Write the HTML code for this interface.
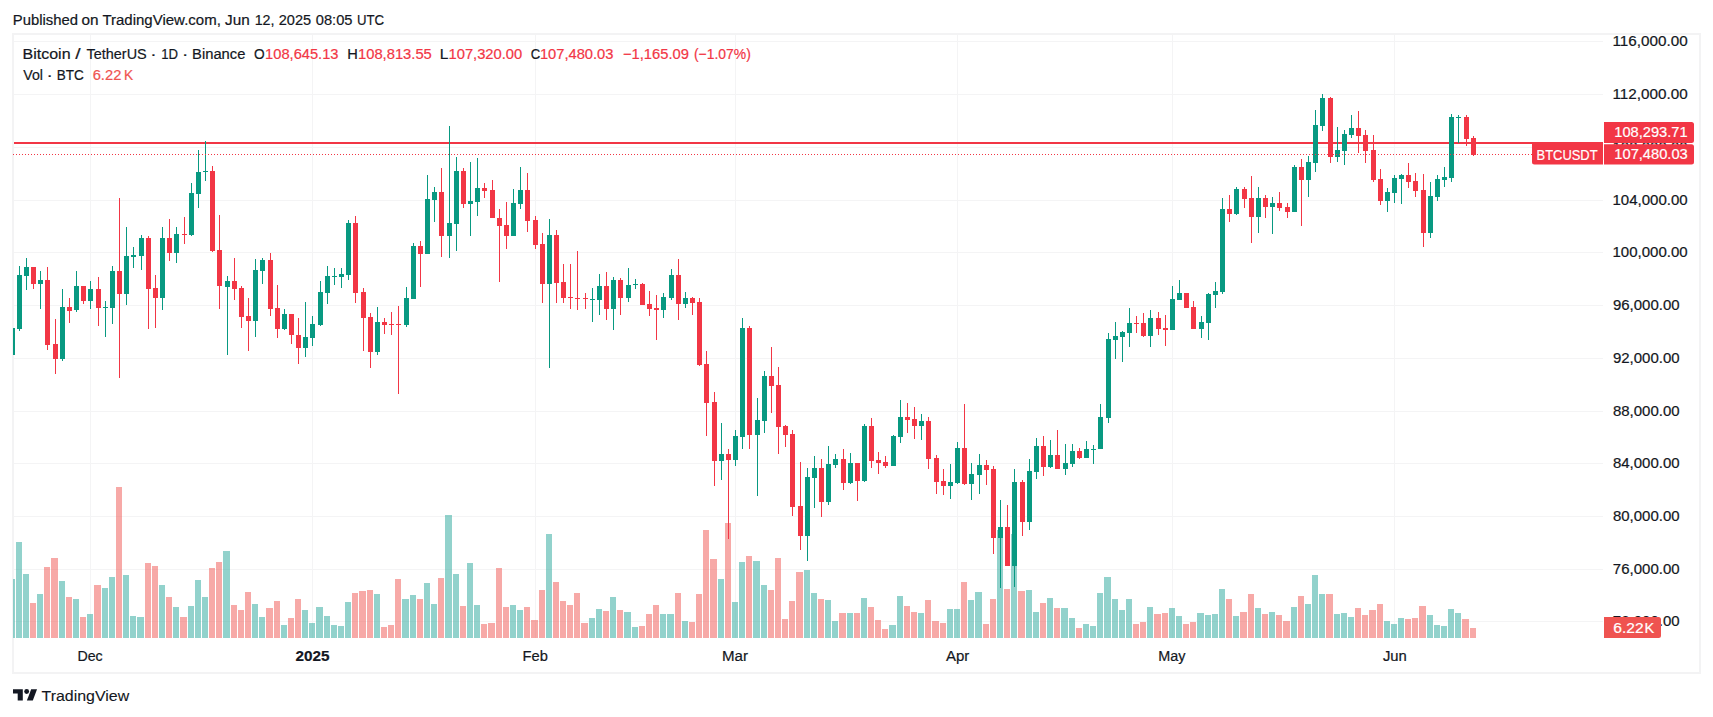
<!DOCTYPE html>
<html lang="en"><head><meta charset="utf-8"><title>BTCUSDT chart</title>
<style>html,body{margin:0;padding:0;background:#fff}body{width:1713px;height:717px;overflow:hidden}svg{display:block}</style>
</head><body>
<svg width="1713" height="717" viewBox="0 0 1713 717">
<rect width="1713" height="717" fill="#fff"/>
<defs><clipPath id="plot"><rect x="13" y="34" width="1590" height="604"/></clipPath></defs>
<g fill="#F4F4F5" shape-rendering="crispEdges"><rect x="13" y="41" width="1590" height="1"/><rect x="13" y="94" width="1590" height="1"/><rect x="13" y="147" width="1590" height="1"/><rect x="13" y="200" width="1590" height="1"/><rect x="13" y="252" width="1590" height="1"/><rect x="13" y="305" width="1590" height="1"/><rect x="13" y="358" width="1590" height="1"/><rect x="13" y="411" width="1590" height="1"/><rect x="13" y="463" width="1590" height="1"/><rect x="13" y="516" width="1590" height="1"/><rect x="13" y="569" width="1590" height="1"/><rect x="13" y="621" width="1590" height="1"/><rect x="90" y="34" width="1" height="604"/><rect x="312" y="34" width="1" height="604"/><rect x="535" y="34" width="1" height="604"/><rect x="735" y="34" width="1" height="604"/><rect x="957" y="34" width="1" height="604"/><rect x="1172" y="34" width="1" height="604"/><rect x="1394" y="34" width="1" height="604"/></g>
<rect x="13" y="34" width="1687" height="639" fill="none" stroke="#F3F3F4" stroke-width="2" shape-rendering="crispEdges"/>
<rect x="14" y="142" width="1589" height="2" fill="#F23645" shape-rendering="crispEdges"/>
<g clip-path="url(#plot)" shape-rendering="crispEdges">
<g fill="#26A69A" fill-opacity="0.5"><rect x="9" y="579" width="6" height="59"/><rect x="16" y="542" width="6" height="96"/><rect x="23" y="574" width="6" height="64"/><rect x="37" y="594" width="6" height="44"/><rect x="59" y="581" width="6" height="57"/><rect x="73" y="599" width="6" height="39"/><rect x="87" y="614" width="6" height="24"/><rect x="102" y="588" width="6" height="50"/><rect x="109" y="577" width="6" height="61"/><rect x="123" y="575" width="6" height="63"/><rect x="130" y="616" width="6" height="22"/><rect x="137" y="617" width="7" height="21"/><rect x="159" y="585" width="6" height="53"/><rect x="173" y="607" width="6" height="31"/><rect x="188" y="606" width="6" height="32"/><rect x="195" y="580" width="6" height="58"/><rect x="202" y="597" width="6" height="41"/><rect x="223" y="551" width="7" height="87"/><rect x="252" y="604" width="6" height="34"/><rect x="259" y="617" width="6" height="21"/><rect x="281" y="625" width="6" height="13"/><rect x="302" y="610" width="6" height="28"/><rect x="309" y="623" width="6" height="15"/><rect x="316" y="607" width="7" height="31"/><rect x="324" y="616" width="6" height="22"/><rect x="331" y="625" width="6" height="13"/><rect x="338" y="626" width="6" height="12"/><rect x="345" y="602" width="6" height="36"/><rect x="374" y="594" width="6" height="44"/><rect x="402" y="599" width="7" height="39"/><rect x="410" y="595" width="6" height="43"/><rect x="424" y="583" width="6" height="55"/><rect x="431" y="604" width="6" height="34"/><rect x="445" y="515" width="7" height="123"/><rect x="453" y="574" width="6" height="64"/><rect x="467" y="563" width="6" height="75"/><rect x="474" y="605" width="6" height="33"/><rect x="510" y="605" width="6" height="33"/><rect x="517" y="610" width="6" height="28"/><rect x="546" y="534" width="6" height="104"/><rect x="589" y="618" width="6" height="20"/><rect x="596" y="609" width="6" height="29"/><rect x="610" y="597" width="6" height="41"/><rect x="624" y="612" width="7" height="26"/><rect x="632" y="627" width="6" height="11"/><rect x="660" y="614" width="6" height="24"/><rect x="667" y="614" width="7" height="24"/><rect x="682" y="621" width="6" height="17"/><rect x="718" y="579" width="6" height="59"/><rect x="732" y="602" width="6" height="36"/><rect x="739" y="562" width="6" height="76"/><rect x="753" y="561" width="7" height="77"/><rect x="761" y="585" width="6" height="53"/><rect x="804" y="570" width="6" height="68"/><rect x="811" y="593" width="6" height="45"/><rect x="825" y="600" width="6" height="38"/><rect x="832" y="621" width="6" height="17"/><rect x="847" y="613" width="6" height="25"/><rect x="861" y="598" width="6" height="40"/><rect x="889" y="625" width="7" height="13"/><rect x="897" y="596" width="6" height="42"/><rect x="918" y="613" width="6" height="25"/><rect x="947" y="609" width="6" height="29"/><rect x="954" y="609" width="6" height="29"/><rect x="968" y="600" width="6" height="38"/><rect x="975" y="592" width="7" height="46"/><rect x="997" y="530" width="6" height="108"/><rect x="1011" y="534" width="6" height="104"/><rect x="1026" y="590" width="6" height="48"/><rect x="1033" y="612" width="6" height="26"/><rect x="1047" y="598" width="6" height="40"/><rect x="1061" y="608" width="7" height="30"/><rect x="1069" y="618" width="6" height="20"/><rect x="1083" y="624" width="6" height="14"/><rect x="1090" y="626" width="6" height="12"/><rect x="1097" y="593" width="6" height="45"/><rect x="1104" y="577" width="7" height="61"/><rect x="1112" y="599" width="6" height="39"/><rect x="1119" y="610" width="6" height="28"/><rect x="1126" y="599" width="6" height="39"/><rect x="1147" y="607" width="6" height="31"/><rect x="1169" y="608" width="6" height="30"/><rect x="1176" y="616" width="6" height="22"/><rect x="1197" y="613" width="7" height="25"/><rect x="1205" y="615" width="6" height="23"/><rect x="1212" y="614" width="6" height="24"/><rect x="1219" y="589" width="6" height="49"/><rect x="1233" y="616" width="6" height="22"/><rect x="1255" y="608" width="6" height="30"/><rect x="1269" y="612" width="6" height="26"/><rect x="1291" y="607" width="6" height="31"/><rect x="1305" y="604" width="6" height="34"/><rect x="1312" y="575" width="6" height="63"/><rect x="1319" y="594" width="6" height="44"/><rect x="1334" y="614" width="6" height="24"/><rect x="1341" y="613" width="6" height="25"/><rect x="1348" y="617" width="6" height="21"/><rect x="1384" y="621" width="6" height="17"/><rect x="1391" y="624" width="6" height="14"/><rect x="1398" y="618" width="6" height="20"/><rect x="1427" y="615" width="6" height="23"/><rect x="1434" y="625" width="6" height="13"/><rect x="1441" y="626" width="6" height="12"/><rect x="1448" y="609" width="6" height="29"/><rect x="1455" y="613" width="6" height="25"/></g>
<g fill="#EF5350" fill-opacity="0.5"><rect x="30" y="603" width="6" height="35"/><rect x="44" y="567" width="6" height="71"/><rect x="51" y="558" width="7" height="80"/><rect x="66" y="597" width="6" height="41"/><rect x="80" y="617" width="6" height="21"/><rect x="94" y="585" width="7" height="53"/><rect x="116" y="487" width="6" height="151"/><rect x="145" y="563" width="6" height="75"/><rect x="152" y="566" width="6" height="72"/><rect x="166" y="597" width="6" height="41"/><rect x="180" y="617" width="7" height="21"/><rect x="209" y="568" width="6" height="70"/><rect x="216" y="562" width="6" height="76"/><rect x="231" y="605" width="6" height="33"/><rect x="238" y="610" width="6" height="28"/><rect x="245" y="592" width="6" height="46"/><rect x="266" y="608" width="7" height="30"/><rect x="274" y="601" width="6" height="37"/><rect x="288" y="618" width="6" height="20"/><rect x="295" y="599" width="6" height="39"/><rect x="352" y="593" width="6" height="45"/><rect x="359" y="591" width="7" height="47"/><rect x="367" y="590" width="6" height="48"/><rect x="381" y="627" width="6" height="11"/><rect x="388" y="625" width="6" height="13"/><rect x="395" y="579" width="6" height="59"/><rect x="417" y="599" width="6" height="39"/><rect x="438" y="578" width="6" height="60"/><rect x="460" y="606" width="6" height="32"/><rect x="481" y="624" width="6" height="14"/><rect x="488" y="623" width="7" height="15"/><rect x="496" y="568" width="6" height="70"/><rect x="503" y="607" width="6" height="31"/><rect x="524" y="607" width="6" height="31"/><rect x="531" y="620" width="7" height="18"/><rect x="539" y="590" width="6" height="48"/><rect x="553" y="582" width="6" height="56"/><rect x="560" y="601" width="6" height="37"/><rect x="567" y="605" width="6" height="33"/><rect x="574" y="593" width="6" height="45"/><rect x="581" y="623" width="7" height="15"/><rect x="603" y="611" width="6" height="27"/><rect x="617" y="610" width="6" height="28"/><rect x="639" y="626" width="6" height="12"/><rect x="646" y="614" width="6" height="24"/><rect x="653" y="605" width="6" height="33"/><rect x="675" y="593" width="6" height="45"/><rect x="689" y="622" width="6" height="16"/><rect x="696" y="594" width="6" height="44"/><rect x="703" y="530" width="6" height="108"/><rect x="710" y="559" width="7" height="79"/><rect x="725" y="523" width="6" height="115"/><rect x="746" y="556" width="6" height="82"/><rect x="768" y="590" width="6" height="48"/><rect x="775" y="558" width="6" height="80"/><rect x="782" y="619" width="6" height="19"/><rect x="789" y="601" width="6" height="37"/><rect x="796" y="572" width="7" height="66"/><rect x="818" y="599" width="6" height="39"/><rect x="839" y="613" width="7" height="25"/><rect x="854" y="613" width="6" height="25"/><rect x="868" y="607" width="6" height="31"/><rect x="875" y="620" width="6" height="18"/><rect x="882" y="629" width="6" height="9"/><rect x="904" y="606" width="6" height="32"/><rect x="911" y="612" width="6" height="26"/><rect x="925" y="600" width="6" height="38"/><rect x="932" y="621" width="7" height="17"/><rect x="940" y="623" width="6" height="15"/><rect x="961" y="582" width="6" height="56"/><rect x="983" y="624" width="6" height="14"/><rect x="990" y="599" width="6" height="39"/><rect x="1004" y="589" width="6" height="49"/><rect x="1018" y="591" width="7" height="47"/><rect x="1040" y="603" width="6" height="35"/><rect x="1054" y="608" width="6" height="30"/><rect x="1076" y="628" width="6" height="10"/><rect x="1133" y="624" width="6" height="14"/><rect x="1140" y="622" width="6" height="16"/><rect x="1154" y="614" width="7" height="24"/><rect x="1162" y="613" width="6" height="25"/><rect x="1183" y="624" width="6" height="14"/><rect x="1190" y="622" width="6" height="16"/><rect x="1226" y="599" width="6" height="39"/><rect x="1240" y="612" width="7" height="26"/><rect x="1248" y="594" width="6" height="44"/><rect x="1262" y="614" width="6" height="24"/><rect x="1276" y="615" width="6" height="23"/><rect x="1283" y="621" width="7" height="17"/><rect x="1298" y="596" width="6" height="42"/><rect x="1326" y="594" width="7" height="44"/><rect x="1355" y="608" width="6" height="30"/><rect x="1362" y="615" width="6" height="23"/><rect x="1369" y="610" width="7" height="28"/><rect x="1377" y="604" width="6" height="34"/><rect x="1405" y="619" width="6" height="19"/><rect x="1412" y="618" width="6" height="20"/><rect x="1419" y="606" width="7" height="32"/><rect x="1462" y="619" width="7" height="19"/><rect x="1470" y="628" width="6" height="10"/></g>
<g fill="#089981"><rect x="12" y="328" width="1" height="27"/><rect x="10" y="328" width="5" height="27"/><rect x="19" y="266" width="1" height="65"/><rect x="17" y="275" width="5" height="54"/><rect x="26" y="258" width="1" height="32"/><rect x="24" y="267" width="5" height="9"/><rect x="40" y="271" width="1" height="38"/><rect x="38" y="280" width="5" height="4"/><rect x="62" y="289" width="1" height="72"/><rect x="60" y="307" width="5" height="52"/><rect x="76" y="271" width="1" height="41"/><rect x="74" y="286" width="5" height="24"/><rect x="90" y="281" width="1" height="28"/><rect x="88" y="289" width="5" height="12"/><rect x="105" y="301" width="1" height="36"/><rect x="103" y="307" width="5" height="1"/><rect x="112" y="266" width="1" height="58"/><rect x="110" y="271" width="5" height="37"/><rect x="126" y="227" width="1" height="78"/><rect x="124" y="256" width="5" height="38"/><rect x="133" y="247" width="1" height="21"/><rect x="131" y="255" width="5" height="2"/><rect x="141" y="235" width="1" height="35"/><rect x="139" y="238" width="5" height="18"/><rect x="162" y="227" width="1" height="83"/><rect x="160" y="238" width="5" height="60"/><rect x="176" y="227" width="1" height="36"/><rect x="174" y="234" width="5" height="19"/><rect x="191" y="183" width="1" height="53"/><rect x="189" y="193" width="5" height="42"/><rect x="198" y="150" width="1" height="58"/><rect x="196" y="172" width="5" height="22"/><rect x="205" y="141" width="1" height="40"/><rect x="203" y="171" width="5" height="1"/><rect x="227" y="276" width="1" height="79"/><rect x="225" y="281" width="5" height="6"/><rect x="255" y="259" width="1" height="78"/><rect x="253" y="270" width="5" height="51"/><rect x="262" y="258" width="1" height="26"/><rect x="260" y="260" width="5" height="11"/><rect x="284" y="309" width="1" height="21"/><rect x="282" y="314" width="5" height="15"/><rect x="305" y="302" width="1" height="55"/><rect x="303" y="337" width="5" height="11"/><rect x="312" y="316" width="1" height="30"/><rect x="310" y="324" width="5" height="14"/><rect x="320" y="281" width="1" height="45"/><rect x="318" y="292" width="5" height="33"/><rect x="327" y="266" width="1" height="38"/><rect x="325" y="276" width="5" height="17"/><rect x="334" y="268" width="1" height="17"/><rect x="332" y="276" width="5" height="1"/><rect x="341" y="268" width="1" height="20"/><rect x="339" y="274" width="5" height="3"/><rect x="348" y="220" width="1" height="60"/><rect x="346" y="223" width="5" height="52"/><rect x="377" y="307" width="1" height="48"/><rect x="375" y="322" width="5" height="30"/><rect x="406" y="287" width="1" height="40"/><rect x="404" y="298" width="5" height="27"/><rect x="413" y="243" width="1" height="56"/><rect x="411" y="246" width="5" height="53"/><rect x="427" y="175" width="1" height="79"/><rect x="425" y="199" width="5" height="55"/><rect x="434" y="187" width="1" height="35"/><rect x="432" y="192" width="5" height="8"/><rect x="449" y="126" width="1" height="132"/><rect x="447" y="223" width="5" height="13"/><rect x="456" y="157" width="1" height="94"/><rect x="454" y="171" width="5" height="53"/><rect x="470" y="162" width="1" height="74"/><rect x="468" y="201" width="5" height="3"/><rect x="477" y="158" width="1" height="58"/><rect x="475" y="188" width="5" height="14"/><rect x="513" y="189" width="1" height="47"/><rect x="511" y="203" width="5" height="33"/><rect x="520" y="167" width="1" height="42"/><rect x="518" y="190" width="5" height="14"/><rect x="549" y="219" width="1" height="149"/><rect x="547" y="235" width="5" height="49"/><rect x="592" y="288" width="1" height="34"/><rect x="590" y="299" width="5" height="1"/><rect x="599" y="274" width="1" height="41"/><rect x="597" y="286" width="5" height="14"/><rect x="613" y="277" width="1" height="53"/><rect x="611" y="280" width="5" height="29"/><rect x="628" y="268" width="1" height="34"/><rect x="626" y="285" width="5" height="13"/><rect x="635" y="279" width="1" height="10"/><rect x="633" y="284" width="5" height="1"/><rect x="663" y="293" width="1" height="25"/><rect x="661" y="297" width="5" height="13"/><rect x="671" y="269" width="1" height="31"/><rect x="669" y="275" width="5" height="23"/><rect x="685" y="292" width="1" height="16"/><rect x="683" y="298" width="5" height="6"/><rect x="721" y="423" width="1" height="57"/><rect x="719" y="454" width="5" height="7"/><rect x="735" y="430" width="1" height="36"/><rect x="733" y="436" width="5" height="24"/><rect x="742" y="318" width="1" height="131"/><rect x="740" y="328" width="5" height="109"/><rect x="757" y="398" width="1" height="98"/><rect x="755" y="420" width="5" height="15"/><rect x="764" y="371" width="1" height="62"/><rect x="762" y="376" width="5" height="45"/><rect x="807" y="468" width="1" height="93"/><rect x="805" y="477" width="5" height="59"/><rect x="814" y="456" width="1" height="52"/><rect x="812" y="468" width="5" height="10"/><rect x="828" y="446" width="1" height="59"/><rect x="826" y="464" width="5" height="38"/><rect x="835" y="454" width="1" height="14"/><rect x="833" y="459" width="5" height="6"/><rect x="850" y="453" width="1" height="31"/><rect x="848" y="463" width="5" height="20"/><rect x="864" y="424" width="1" height="58"/><rect x="862" y="426" width="5" height="55"/><rect x="893" y="435" width="1" height="31"/><rect x="891" y="436" width="5" height="30"/><rect x="900" y="400" width="1" height="43"/><rect x="898" y="417" width="5" height="20"/><rect x="921" y="414" width="1" height="26"/><rect x="919" y="421" width="5" height="5"/><rect x="950" y="464" width="1" height="35"/><rect x="948" y="482" width="5" height="4"/><rect x="957" y="442" width="1" height="42"/><rect x="955" y="448" width="5" height="35"/><rect x="971" y="463" width="1" height="37"/><rect x="969" y="474" width="5" height="10"/><rect x="979" y="454" width="1" height="40"/><rect x="977" y="465" width="5" height="10"/><rect x="1000" y="500" width="1" height="88"/><rect x="998" y="527" width="5" height="11"/><rect x="1014" y="469" width="1" height="118"/><rect x="1012" y="482" width="5" height="84"/><rect x="1029" y="459" width="1" height="71"/><rect x="1027" y="471" width="5" height="51"/><rect x="1036" y="438" width="1" height="41"/><rect x="1034" y="446" width="5" height="26"/><rect x="1050" y="440" width="1" height="28"/><rect x="1048" y="455" width="5" height="12"/><rect x="1065" y="444" width="1" height="31"/><rect x="1063" y="463" width="5" height="6"/><rect x="1072" y="444" width="1" height="23"/><rect x="1070" y="451" width="5" height="13"/><rect x="1086" y="441" width="1" height="17"/><rect x="1084" y="449" width="5" height="9"/><rect x="1093" y="445" width="1" height="19"/><rect x="1091" y="449" width="5" height="1"/><rect x="1100" y="404" width="1" height="45"/><rect x="1098" y="417" width="5" height="32"/><rect x="1108" y="333" width="1" height="90"/><rect x="1106" y="339" width="5" height="79"/><rect x="1115" y="322" width="1" height="37"/><rect x="1113" y="336" width="5" height="4"/><rect x="1122" y="331" width="1" height="31"/><rect x="1120" y="332" width="5" height="5"/><rect x="1129" y="308" width="1" height="39"/><rect x="1127" y="323" width="5" height="10"/><rect x="1150" y="310" width="1" height="37"/><rect x="1148" y="318" width="5" height="18"/><rect x="1172" y="286" width="1" height="44"/><rect x="1170" y="299" width="5" height="31"/><rect x="1179" y="280" width="1" height="20"/><rect x="1177" y="293" width="5" height="7"/><rect x="1201" y="316" width="1" height="22"/><rect x="1199" y="322" width="5" height="7"/><rect x="1208" y="293" width="1" height="47"/><rect x="1206" y="294" width="5" height="29"/><rect x="1215" y="282" width="1" height="26"/><rect x="1213" y="291" width="5" height="4"/><rect x="1222" y="198" width="1" height="96"/><rect x="1220" y="209" width="5" height="83"/><rect x="1236" y="187" width="1" height="28"/><rect x="1234" y="189" width="5" height="25"/><rect x="1258" y="187" width="1" height="46"/><rect x="1256" y="198" width="5" height="19"/><rect x="1272" y="197" width="1" height="37"/><rect x="1270" y="203" width="5" height="4"/><rect x="1294" y="165" width="1" height="47"/><rect x="1292" y="167" width="5" height="45"/><rect x="1308" y="156" width="1" height="41"/><rect x="1306" y="162" width="5" height="18"/><rect x="1315" y="110" width="1" height="62"/><rect x="1313" y="125" width="5" height="38"/><rect x="1322" y="94" width="1" height="37"/><rect x="1320" y="98" width="5" height="28"/><rect x="1337" y="127" width="1" height="35"/><rect x="1335" y="150" width="5" height="7"/><rect x="1344" y="130" width="1" height="35"/><rect x="1342" y="134" width="5" height="17"/><rect x="1351" y="115" width="1" height="23"/><rect x="1349" y="128" width="5" height="7"/><rect x="1387" y="188" width="1" height="24"/><rect x="1385" y="192" width="5" height="9"/><rect x="1394" y="175" width="1" height="28"/><rect x="1392" y="178" width="5" height="15"/><rect x="1401" y="174" width="1" height="30"/><rect x="1399" y="175" width="5" height="4"/><rect x="1430" y="182" width="1" height="56"/><rect x="1428" y="196" width="5" height="37"/><rect x="1437" y="175" width="1" height="26"/><rect x="1435" y="179" width="5" height="18"/><rect x="1444" y="167" width="1" height="20"/><rect x="1442" y="177" width="5" height="3"/><rect x="1451" y="114" width="1" height="68"/><rect x="1449" y="117" width="5" height="61"/><rect x="1458" y="115" width="1" height="28"/><rect x="1456" y="117" width="5" height="1"/></g>
<g fill="#F23645"><rect x="33" y="267" width="1" height="22"/><rect x="31" y="267" width="5" height="17"/><rect x="47" y="267" width="1" height="83"/><rect x="45" y="280" width="5" height="65"/><rect x="55" y="319" width="1" height="55"/><rect x="53" y="344" width="5" height="15"/><rect x="69" y="298" width="1" height="25"/><rect x="67" y="307" width="5" height="4"/><rect x="83" y="286" width="1" height="18"/><rect x="81" y="286" width="5" height="15"/><rect x="98" y="277" width="1" height="49"/><rect x="96" y="289" width="5" height="19"/><rect x="119" y="198" width="1" height="180"/><rect x="117" y="271" width="5" height="23"/><rect x="148" y="236" width="1" height="93"/><rect x="146" y="238" width="5" height="51"/><rect x="155" y="275" width="1" height="53"/><rect x="153" y="288" width="5" height="10"/><rect x="169" y="219" width="1" height="42"/><rect x="167" y="238" width="5" height="15"/><rect x="184" y="217" width="1" height="27"/><rect x="182" y="234" width="5" height="1"/><rect x="212" y="166" width="1" height="86"/><rect x="210" y="171" width="5" height="80"/><rect x="219" y="215" width="1" height="94"/><rect x="217" y="250" width="5" height="36"/><rect x="234" y="258" width="1" height="42"/><rect x="232" y="281" width="5" height="8"/><rect x="241" y="286" width="1" height="42"/><rect x="239" y="288" width="5" height="29"/><rect x="248" y="298" width="1" height="53"/><rect x="246" y="316" width="5" height="5"/><rect x="270" y="253" width="1" height="63"/><rect x="268" y="260" width="5" height="49"/><rect x="277" y="285" width="1" height="53"/><rect x="275" y="308" width="5" height="21"/><rect x="291" y="314" width="1" height="30"/><rect x="289" y="314" width="5" height="21"/><rect x="298" y="318" width="1" height="46"/><rect x="296" y="335" width="5" height="13"/><rect x="355" y="216" width="1" height="87"/><rect x="353" y="223" width="5" height="70"/><rect x="363" y="288" width="1" height="63"/><rect x="361" y="292" width="5" height="26"/><rect x="370" y="313" width="1" height="55"/><rect x="368" y="317" width="5" height="35"/><rect x="384" y="318" width="1" height="16"/><rect x="382" y="322" width="5" height="3"/><rect x="391" y="312" width="1" height="23"/><rect x="389" y="324" width="5" height="1"/><rect x="398" y="306" width="1" height="88"/><rect x="396" y="324" width="5" height="1"/><rect x="420" y="241" width="1" height="46"/><rect x="418" y="246" width="5" height="8"/><rect x="441" y="168" width="1" height="89"/><rect x="439" y="192" width="5" height="44"/><rect x="463" y="168" width="1" height="40"/><rect x="461" y="171" width="5" height="33"/><rect x="484" y="183" width="1" height="15"/><rect x="482" y="188" width="5" height="3"/><rect x="492" y="180" width="1" height="38"/><rect x="490" y="190" width="5" height="28"/><rect x="499" y="209" width="1" height="73"/><rect x="497" y="218" width="5" height="8"/><rect x="506" y="202" width="1" height="47"/><rect x="504" y="225" width="5" height="11"/><rect x="527" y="173" width="1" height="59"/><rect x="525" y="190" width="5" height="31"/><rect x="535" y="216" width="1" height="33"/><rect x="533" y="220" width="5" height="25"/><rect x="542" y="233" width="1" height="70"/><rect x="540" y="244" width="5" height="40"/><rect x="556" y="230" width="1" height="73"/><rect x="554" y="235" width="5" height="48"/><rect x="563" y="264" width="1" height="39"/><rect x="561" y="282" width="5" height="16"/><rect x="570" y="264" width="1" height="45"/><rect x="568" y="297" width="5" height="1"/><rect x="577" y="251" width="1" height="59"/><rect x="575" y="298" width="5" height="1"/><rect x="585" y="293" width="1" height="16"/><rect x="583" y="298" width="5" height="1"/><rect x="606" y="272" width="1" height="48"/><rect x="604" y="286" width="5" height="23"/><rect x="620" y="278" width="1" height="37"/><rect x="618" y="280" width="5" height="18"/><rect x="642" y="283" width="1" height="22"/><rect x="640" y="284" width="5" height="21"/><rect x="649" y="291" width="1" height="25"/><rect x="647" y="304" width="5" height="5"/><rect x="656" y="295" width="1" height="45"/><rect x="654" y="308" width="5" height="2"/><rect x="678" y="259" width="1" height="61"/><rect x="676" y="275" width="5" height="29"/><rect x="692" y="297" width="1" height="18"/><rect x="690" y="298" width="5" height="5"/><rect x="699" y="298" width="1" height="68"/><rect x="697" y="302" width="5" height="63"/><rect x="706" y="351" width="1" height="85"/><rect x="704" y="364" width="5" height="39"/><rect x="714" y="392" width="1" height="94"/><rect x="712" y="402" width="5" height="59"/><rect x="728" y="449" width="1" height="90"/><rect x="726" y="454" width="5" height="6"/><rect x="749" y="326" width="1" height="123"/><rect x="747" y="328" width="5" height="107"/><rect x="771" y="347" width="1" height="66"/><rect x="769" y="376" width="5" height="10"/><rect x="778" y="367" width="1" height="87"/><rect x="776" y="385" width="5" height="42"/><rect x="785" y="425" width="1" height="22"/><rect x="783" y="426" width="5" height="9"/><rect x="792" y="430" width="1" height="86"/><rect x="790" y="434" width="5" height="73"/><rect x="800" y="462" width="1" height="88"/><rect x="798" y="506" width="5" height="30"/><rect x="821" y="459" width="1" height="58"/><rect x="819" y="468" width="5" height="34"/><rect x="843" y="449" width="1" height="41"/><rect x="841" y="459" width="5" height="24"/><rect x="857" y="463" width="1" height="38"/><rect x="855" y="463" width="5" height="18"/><rect x="871" y="418" width="1" height="50"/><rect x="869" y="426" width="5" height="35"/><rect x="878" y="452" width="1" height="22"/><rect x="876" y="460" width="5" height="3"/><rect x="885" y="456" width="1" height="12"/><rect x="883" y="462" width="5" height="4"/><rect x="907" y="403" width="1" height="30"/><rect x="905" y="417" width="5" height="3"/><rect x="914" y="407" width="1" height="32"/><rect x="912" y="419" width="5" height="7"/><rect x="928" y="417" width="1" height="52"/><rect x="926" y="421" width="5" height="38"/><rect x="936" y="455" width="1" height="39"/><rect x="934" y="458" width="5" height="24"/><rect x="943" y="469" width="1" height="26"/><rect x="941" y="481" width="5" height="5"/><rect x="964" y="404" width="1" height="81"/><rect x="962" y="448" width="5" height="36"/><rect x="986" y="460" width="1" height="25"/><rect x="984" y="465" width="5" height="5"/><rect x="993" y="466" width="1" height="88"/><rect x="991" y="469" width="5" height="69"/><rect x="1007" y="505" width="1" height="61"/><rect x="1005" y="527" width="5" height="39"/><rect x="1022" y="480" width="1" height="56"/><rect x="1020" y="482" width="5" height="40"/><rect x="1043" y="436" width="1" height="40"/><rect x="1041" y="446" width="5" height="21"/><rect x="1057" y="430" width="1" height="39"/><rect x="1055" y="455" width="5" height="14"/><rect x="1079" y="448" width="1" height="11"/><rect x="1077" y="451" width="5" height="7"/><rect x="1136" y="316" width="1" height="17"/><rect x="1134" y="323" width="5" height="1"/><rect x="1143" y="313" width="1" height="24"/><rect x="1141" y="323" width="5" height="13"/><rect x="1158" y="312" width="1" height="23"/><rect x="1156" y="318" width="5" height="11"/><rect x="1165" y="315" width="1" height="31"/><rect x="1163" y="328" width="5" height="2"/><rect x="1186" y="293" width="1" height="15"/><rect x="1184" y="293" width="5" height="15"/><rect x="1193" y="301" width="1" height="28"/><rect x="1191" y="307" width="5" height="22"/><rect x="1229" y="195" width="1" height="27"/><rect x="1227" y="209" width="5" height="5"/><rect x="1244" y="187" width="1" height="21"/><rect x="1242" y="189" width="5" height="10"/><rect x="1251" y="176" width="1" height="67"/><rect x="1249" y="198" width="5" height="19"/><rect x="1265" y="195" width="1" height="23"/><rect x="1263" y="198" width="5" height="9"/><rect x="1279" y="192" width="1" height="19"/><rect x="1277" y="203" width="5" height="5"/><rect x="1287" y="203" width="1" height="15"/><rect x="1285" y="207" width="5" height="5"/><rect x="1301" y="159" width="1" height="67"/><rect x="1299" y="167" width="5" height="13"/><rect x="1330" y="97" width="1" height="66"/><rect x="1328" y="98" width="5" height="59"/><rect x="1358" y="111" width="1" height="42"/><rect x="1356" y="128" width="5" height="8"/><rect x="1365" y="130" width="1" height="33"/><rect x="1363" y="135" width="5" height="16"/><rect x="1373" y="135" width="1" height="47"/><rect x="1371" y="150" width="5" height="30"/><rect x="1380" y="169" width="1" height="36"/><rect x="1378" y="179" width="5" height="22"/><rect x="1408" y="163" width="1" height="25"/><rect x="1406" y="175" width="5" height="7"/><rect x="1415" y="173" width="1" height="24"/><rect x="1413" y="181" width="5" height="10"/><rect x="1423" y="174" width="1" height="73"/><rect x="1421" y="190" width="5" height="43"/><rect x="1466" y="115" width="1" height="31"/><rect x="1464" y="117" width="5" height="22"/><rect x="1473" y="136" width="1" height="20"/><rect x="1471" y="138" width="5" height="17"/></g>
</g>
<path d="M13 154.5H1603" stroke="#F23645" stroke-width="1" stroke-dasharray="1 2" shape-rendering="crispEdges"/>
<g font-family="'Liberation Sans', Arial, sans-serif" font-size="14.7" stroke-width="0.2"><text x="1612.46" y="45.8" fill="#131722" stroke="#131722" textLength="75.19" lengthAdjust="spacingAndGlyphs">116,000.00</text>
<text x="1612.46" y="98.8" fill="#131722" stroke="#131722" textLength="75.19" lengthAdjust="spacingAndGlyphs">112,000.00</text>
<text x="1612.47" y="151.8" fill="#131722" stroke="#131722" textLength="75.15" lengthAdjust="spacingAndGlyphs">108,000.00</text>
<text x="1612.47" y="204.8" fill="#131722" stroke="#131722" textLength="75.15" lengthAdjust="spacingAndGlyphs">104,000.00</text>
<text x="1612.47" y="256.8" fill="#131722" stroke="#131722" textLength="75.15" lengthAdjust="spacingAndGlyphs">100,000.00</text>
<text x="1612.93" y="309.8" fill="#131722" stroke="#131722" textLength="66.68" lengthAdjust="spacingAndGlyphs">96,000.00</text>
<text x="1612.93" y="362.8" fill="#131722" stroke="#131722" textLength="66.68" lengthAdjust="spacingAndGlyphs">92,000.00</text>
<text x="1612.93" y="415.8" fill="#131722" stroke="#131722" textLength="66.68" lengthAdjust="spacingAndGlyphs">88,000.00</text>
<text x="1612.93" y="467.8" fill="#131722" stroke="#131722" textLength="66.68" lengthAdjust="spacingAndGlyphs">84,000.00</text>
<text x="1612.93" y="520.8" fill="#131722" stroke="#131722" textLength="66.68" lengthAdjust="spacingAndGlyphs">80,000.00</text>
<text x="1612.85" y="573.8" fill="#131722" stroke="#131722" textLength="66.76" lengthAdjust="spacingAndGlyphs">76,000.00</text>
<text x="1612.85" y="625.8" fill="#131722" stroke="#131722" textLength="66.76" lengthAdjust="spacingAndGlyphs">72,000.00</text>
<text x="77.46" y="661" fill="#131722" stroke="#131722" textLength="25.27" lengthAdjust="spacingAndGlyphs">Dec</text>
<text x="295.41" y="661" fill="#131722" stroke="#131722" font-weight="bold" textLength="34.01" lengthAdjust="spacingAndGlyphs">2025</text>
<text x="522.58" y="661" fill="#131722" stroke="#131722" textLength="25.31" lengthAdjust="spacingAndGlyphs">Feb</text>
<text x="722.04" y="661" fill="#131722" stroke="#131722" textLength="25.97" lengthAdjust="spacingAndGlyphs">Mar</text>
<text x="945.95" y="661" fill="#131722" stroke="#131722" textLength="23.34" lengthAdjust="spacingAndGlyphs">Apr</text>
<text x="1158.30" y="661" fill="#131722" stroke="#131722" textLength="27.24" lengthAdjust="spacingAndGlyphs">May</text>
<text x="1382.93" y="661" fill="#131722" stroke="#131722" textLength="23.92" lengthAdjust="spacingAndGlyphs">Jun</text>
<text x="12.81" y="24.8" fill="#131722" stroke="#131722" textLength="65.19" lengthAdjust="spacingAndGlyphs">Published</text>
<text x="81.59" y="24.8" fill="#131722" stroke="#131722" textLength="17.04" lengthAdjust="spacingAndGlyphs">on</text>
<text x="102.40" y="24.8" fill="#131722" stroke="#131722" textLength="118.42" lengthAdjust="spacingAndGlyphs">TradingView.com,</text>
<text x="225.07" y="24.8" fill="#131722" stroke="#131722" textLength="24.66" lengthAdjust="spacingAndGlyphs">Jun</text>
<text x="254.63" y="24.8" fill="#131722" stroke="#131722" textLength="19.86" lengthAdjust="spacingAndGlyphs">12,</text>
<text x="278.77" y="24.8" fill="#131722" stroke="#131722" textLength="32.41" lengthAdjust="spacingAndGlyphs">2025</text>
<text x="315.81" y="24.8" fill="#131722" stroke="#131722" textLength="36.71" lengthAdjust="spacingAndGlyphs">08:05</text>
<text x="357.01" y="24.8" fill="#131722" stroke="#131722" textLength="27.16" lengthAdjust="spacingAndGlyphs">UTC</text>
<text x="22.52" y="58.6" fill="#131722" stroke="#131722" textLength="48.05" lengthAdjust="spacingAndGlyphs">Bitcoin</text>
<text x="75.20" y="58.6" fill="#131722" stroke="#131722" textLength="5.36" lengthAdjust="spacingAndGlyphs">/</text>
<text x="86.61" y="58.6" fill="#131722" stroke="#131722" textLength="60.09" lengthAdjust="spacingAndGlyphs">TetherUS</text>
<text x="150.33" y="58.6" fill="#131722" stroke="#131722" textLength="6.31" lengthAdjust="spacingAndGlyphs">·</text>
<text x="161.31" y="58.6" fill="#131722" stroke="#131722" textLength="16.82" lengthAdjust="spacingAndGlyphs">1D</text>
<text x="182.03" y="58.6" fill="#131722" stroke="#131722" textLength="6.31" lengthAdjust="spacingAndGlyphs">·</text>
<text x="192.12" y="58.6" fill="#131722" stroke="#131722" textLength="53.22" lengthAdjust="spacingAndGlyphs">Binance</text>
<text x="253.88" y="58.6" fill="#131722" stroke="#131722" textLength="10.67" lengthAdjust="spacingAndGlyphs">O</text>
<text x="265.10" y="58.6" fill="#F23645" stroke="#F23645" textLength="73.39" lengthAdjust="spacingAndGlyphs">108,645.13</text>
<text x="347.23" y="58.6" fill="#131722" stroke="#131722" textLength="10.57" lengthAdjust="spacingAndGlyphs">H</text>
<text x="357.99" y="58.6" fill="#F23645" stroke="#F23645" textLength="73.80" lengthAdjust="spacingAndGlyphs">108,813.55</text>
<text x="439.76" y="58.6" fill="#131722" stroke="#131722" textLength="8.62" lengthAdjust="spacingAndGlyphs">L</text>
<text x="448.50" y="58.6" fill="#F23645" stroke="#F23645" textLength="73.72" lengthAdjust="spacingAndGlyphs">107,320.00</text>
<text x="530.85" y="58.6" fill="#131722" stroke="#131722" textLength="9.44" lengthAdjust="spacingAndGlyphs">C</text>
<text x="539.90" y="58.6" fill="#F23645" stroke="#F23645" textLength="73.59" lengthAdjust="spacingAndGlyphs">107,480.03</text>
<text x="622.96" y="58.6" fill="#F23645" stroke="#F23645" textLength="65.92" lengthAdjust="spacingAndGlyphs">−1,165.09</text>
<text x="693.96" y="58.6" fill="#F23645" stroke="#F23645" textLength="56.88" lengthAdjust="spacingAndGlyphs">(−1.07%)</text>
<text x="23.23" y="79.7" fill="#131722" stroke="#131722" textLength="19.69" lengthAdjust="spacingAndGlyphs">Vol</text>
<text x="46.53" y="79.7" fill="#131722" stroke="#131722" textLength="6.31" lengthAdjust="spacingAndGlyphs">·</text>
<text x="56.82" y="79.7" fill="#131722" stroke="#131722" textLength="27.06" lengthAdjust="spacingAndGlyphs">BTC</text>
<text x="92.66" y="79.7" fill="#EF5350" stroke="#EF5350" textLength="28.69" lengthAdjust="spacingAndGlyphs">6.22</text>
<text x="124.10" y="79.7" fill="#EF5350" stroke="#EF5350" textLength="9.16" lengthAdjust="spacingAndGlyphs">K</text>
<path d="M1604 122H1691.5a2.5 2.5 0 0 1 2.5 2.5V140.5a2.5 2.5 0 0 1 -2.5 2.5H1604V122Z" fill="#F23645"/>
<path d="M1604 144.25H1691.5a2.5 2.5 0 0 1 2.5 2.5V161.9a2.5 2.5 0 0 1 -2.5 2.5H1604V144.25Z" fill="#F23645"/>
<path d="M1534.5 142H1603V164.4H1534.5a2.5 2.5 0 0 1 -2.5 -2.5V144.5a2.5 2.5 0 0 1 2.5 -2.5Z" fill="#F23645"/>
<path d="M1604 617H1658.5a2.5 2.5 0 0 1 2.5 2.5V635.5a2.5 2.5 0 0 1 -2.5 2.5H1604V617Z" fill="#EF5350"/>
<text x="1614.30" y="136.7" fill="#fff" stroke="#fff" textLength="73.36" lengthAdjust="spacingAndGlyphs">108,293.71</text>
<text x="1614.30" y="158.6" fill="#fff" stroke="#fff" textLength="73.49" lengthAdjust="spacingAndGlyphs">107,480.03</text>
<text x="1536.57" y="159.6" fill="#fff" stroke="#fff" textLength="61.02" lengthAdjust="spacingAndGlyphs">BTCUSDT</text>
<text x="1613.22" y="632.5" fill="#fff" stroke="#fff" textLength="30.38" lengthAdjust="spacingAndGlyphs">6.22</text>
<text x="1644.53" y="632.5" fill="#fff" stroke="#fff" textLength="9.74" lengthAdjust="spacingAndGlyphs">K</text></g>
<g fill="#131722"><path d="M13 689.15h9.8v11.25h-5.1v-6.9h-4.7z"/><circle cx="26.66" cy="691.45" r="2.45"/><path d="M31.15 689.15h5.9l-4.25 11.25h-5.9z"/></g>
<g font-family="'Liberation Sans', Arial, sans-serif" font-size="14.7" stroke-width="0.1"><text x="41.58" y="700.7" fill="#131722" stroke="#131722" textLength="87.59" lengthAdjust="spacingAndGlyphs">TradingView</text></g>
</svg>
</body></html>
